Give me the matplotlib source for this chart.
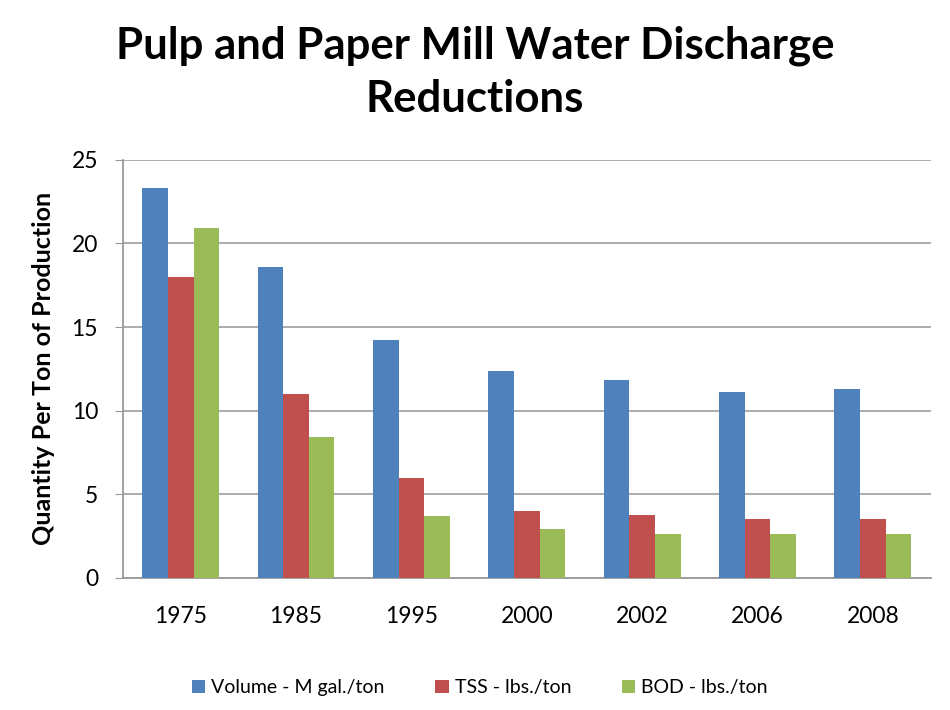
import numpy as np
import matplotlib.pyplot as plt

plt.rcParams['font.family'] = ['Lato', 'DejaVu Sans']

years = ['1975', '1985', '1995', '2000', '2002', '2006', '2008']
volume = [23.3, 18.6, 14.2, 12.4, 11.85, 11.1, 11.3]
tss = [18.0, 11.0, 6.0, 4.0, 3.75, 3.5, 3.5]
bod = [20.9, 8.4, 3.7, 2.9, 2.6, 2.6, 2.6]

labels = ['Volume - M gal./ton', 'TSS - lbs./ton', 'BOD - lbs./ton']
colors = ['#4F81BD', '#C0504D', '#9BBB59']

fig = plt.figure(figsize=(9.5, 7.1), dpi=100)
ax = fig.add_axes([0.1295, 0.186, 0.85, 0.589])

x = np.arange(len(years))
w = 0.222
for k, (vals, lab, col) in enumerate(zip([volume, tss, bod], labels, colors)):
    ax.bar(x + (k - 1) * w, vals, w, color=col, label=lab, zorder=3)

ax.set_xlim(-0.5, len(years) - 0.5)
ax.set_ylim(0, 25)
ax.set_yticks([0, 5, 10, 15, 20, 25])
ax.set_xticks(x)
ax.set_xticklabels(years)
ax.grid(axis='y', color='#a6a6a6', linewidth=1.3, zorder=0)
for s in ['top', 'right']:
    ax.spines[s].set_visible(False)
ax.spines['left'].set_color('#999999')
ax.spines['bottom'].set_color('#999999')
ax.spines['left'].set_linewidth(1.3)
ax.spines['bottom'].set_linewidth(1.3)
ax.tick_params(axis='y', length=6, color='#999999', labelsize=16.5, pad=12)
ax.tick_params(axis='x', length=0, labelsize=16.5, pad=20)

ax.set_ylabel('Quantity Per Ton of Production', fontsize=18, fontweight='bold', labelpad=12)

fig.text(0.5, 0.898, 'Pulp and Paper Mill Water Discharge\nReductions', ha='center', va='center',
         fontsize=31.5, fontweight='bold', linespacing=1.38)

fig.legend(loc='center', bbox_to_anchor=(0.505, 0.031), ncol=3, frameon=False, fontsize=14,
           handlelength=0.7, handleheight=0.7, handletextpad=0.3, columnspacing=2.6)

fig.savefig('out.png')
